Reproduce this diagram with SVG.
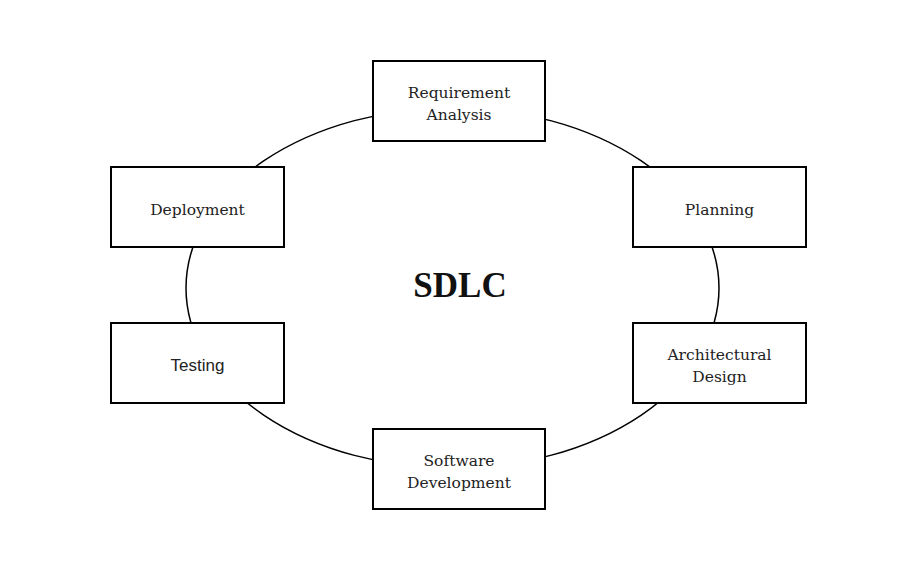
<svg xmlns="http://www.w3.org/2000/svg" width="921" height="573" viewBox="0 0 921 573">
<style>
.box{fill:#fff;stroke:#000;stroke-width:2}
.lbl{font-family:"DejaVu Serif","Liberation Serif",serif;font-size:15.5px;fill:#222;text-anchor:middle}
.sans{font-family:"Liberation Sans",Arial,sans-serif;font-size:17px;fill:#222;text-anchor:middle}
.title{font-family:"Liberation Serif","DejaVu Serif",serif;font-size:35px;font-weight:bold;fill:#111;text-anchor:middle}
.conn{fill:none;stroke:#000;stroke-width:1.5}
</style>
<rect width="921" height="573" fill="#fff"/>
<g id="connectors">
<ellipse class="conn" cx="452.5" cy="288" rx="266.5" ry="180"/>
</g>
<g id="center"><text class="title" x="460" y="297">SDLC</text></g>
<g id="requirement"><rect class="box" x="373" y="61" width="172" height="80"/><text class="lbl" x="459" y="98">Requirement</text><text class="lbl" x="459" y="120">Analysis</text></g>
<g id="planning"><rect class="box" x="633" y="167" width="173" height="80"/><text class="lbl" x="719.5" y="215">Planning</text></g>
<g id="architectural"><rect class="box" x="633" y="323" width="173" height="80"/><text class="lbl" x="719.5" y="360">Architectural</text><text class="lbl" x="719.5" y="382">Design</text></g>
<g id="software"><rect class="box" x="373" y="429" width="172" height="80"/><text class="lbl" x="459" y="466">Software</text><text class="lbl" x="459" y="488">Development</text></g>
<g id="testing"><rect class="box" x="111" y="323" width="173" height="80"/><text class="sans" x="197.5" y="371">Testing</text></g>
<g id="deployment"><rect class="box" x="111" y="167" width="173" height="80"/><text class="lbl" x="197.5" y="215">Deployment</text></g>
</svg>
